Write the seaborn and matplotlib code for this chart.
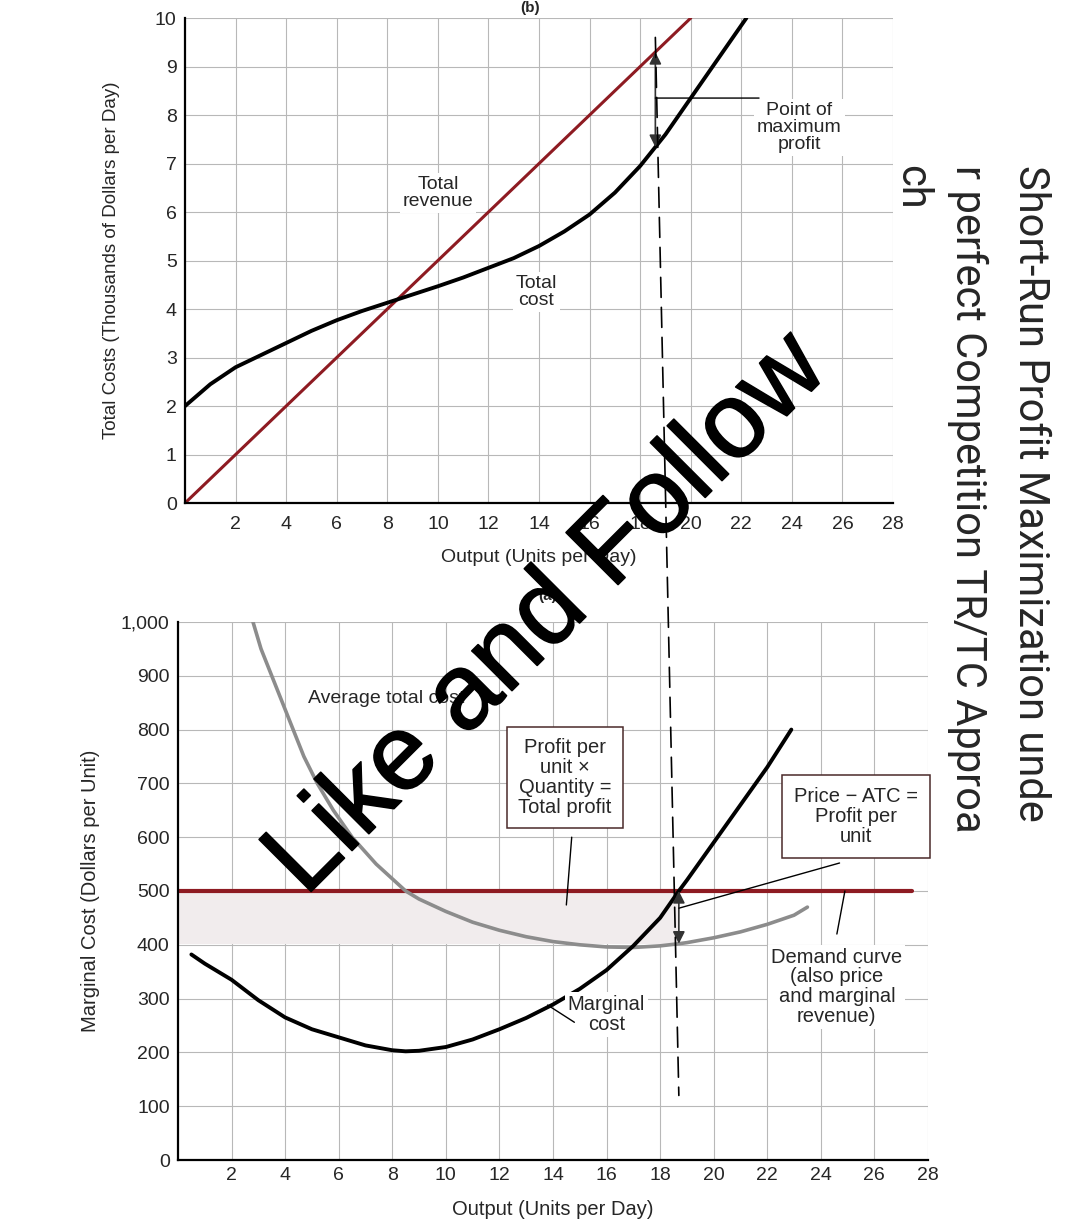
import numpy as np
import pandas as pd
import matplotlib
matplotlib.use("Agg")
import matplotlib.pyplot as plt
import matplotlib.patheffects as pe
import seaborn as sns
from matplotlib.patches import ConnectionPatch

# ---- data ----
output_ticks = list(range(2, 29, 2))
total_ticks = list(range(0, 11))
unit_ticks = list(range(0, 1001, 100))

# panel (b): totals, thousands of dollars per day
tr_x = [0, 20]
tr_y = [0, 10]
tc_x = [0, 1, 2, 3, 4, 5, 6, 7, 8, 9, 10, 11, 12, 13, 14, 15, 16, 17, 18, 19, 20, 21, 22, 22.2]
tc_y = [2.0, 2.45, 2.8, 3.05, 3.3, 3.55, 3.77, 3.96, 4.13, 4.3, 4.47, 4.65, 4.85, 5.05,
        5.3, 5.6, 5.95, 6.4, 6.95, 7.6, 8.35, 9.1, 9.85, 10.0]

# panel (a): per-unit, dollars per unit
mc_x = [0.5, 1, 2, 3, 4, 5, 6, 7, 8, 8.5, 9, 10, 11, 12, 13, 14, 15, 16, 17, 18,
        18.7, 19, 20, 21, 22, 22.9]
mc_y = [382, 365, 335, 297, 265, 243, 228, 213, 204, 202, 203, 210, 224, 243, 264, 289,
        318, 353, 398, 450, 500, 520, 590, 660, 730, 800]
atc_x = [2.8, 3.1, 3.5, 3.9, 4.3, 4.7, 5.2, 5.8, 6.5, 7.4, 8.5, 9, 10, 11, 12, 13, 14,
         15, 16, 17, 18, 18.7, 19, 20, 21, 22, 23, 23.5]
atc_y = [1000, 950, 900, 850, 800, 750, 700, 650, 600, 550, 500, 485, 462, 442, 427, 415,
         406, 400, 396, 395, 398, 402, 404, 413, 424, 438, 455, 470]
demand_x = [0, 27.4]
demand_y = [500, 500]

q_top = 18.6      # profit-maximising output as drawn in panel (b)
q_bottom = 18.7   # same point as drawn in panel (a)
price = 500

sns.set_style("white")
plt.rcParams["font.family"] = ["Liberation Sans", "DejaVu Sans"]

fig = plt.figure(figsize=(10.8, 12.27), dpi=100)
ax_top = fig.add_axes([0.1713, 0.590, 0.6556, 0.3953])
ax_bot = fig.add_axes([0.1648, 0.0546, 0.6944, 0.4385])

grid_color = "#b8b8b8"
dark_red = "#8e1b22"
box = dict(boxstyle="square,pad=0.15", facecolor="white", edgecolor="none")
line_kw = dict(arrowstyle="-", color="black", lw=1.0, shrinkA=0, shrinkB=0)


def style_axes(ax, yticks):
    ax.set_xlim(0, 28)
    ax.set_ylim(yticks[0], yticks[-1])
    ax.set_xticks(output_ticks)
    ax.set_yticks(yticks)
    ax.grid(True, color=grid_color, linewidth=0.8)
    ax.set_axisbelow(True)
    for side in ["top", "right"]:
        ax.spines[side].set_visible(False)
    for side in ["left", "bottom"]:
        ax.spines[side].set_color("black")
        ax.spines[side].set_linewidth(1.6)
    ax.tick_params(length=0, labelsize=14, pad=6)


# ---- panel (b) ----
style_axes(ax_top, total_ticks)
ax_top.tick_params(axis="x", pad=9)
sns.lineplot(x=tr_x, y=tr_y, ax=ax_top, color=dark_red, linewidth=2.2)
sns.lineplot(x=tc_x, y=tc_y, ax=ax_top, color="black", linewidth=2.8)
ax_top.set_xlabel("Output (Units per Day)", fontsize=14)
ax_top.set_ylabel("Total Costs (Thousands of Dollars per Day)", fontsize=13.5)
ax_top.xaxis.set_label_coords(0.5, -0.095)
ax_top.yaxis.set_label_coords(-0.092, 0.5)

tr_q = np.interp(q_top, tr_x, tr_y)
tc_q = np.interp(q_top, tc_x, tc_y)
ax_top.annotate("", xy=(q_top, tr_q), xytext=(q_top, tc_q),
                arrowprops=dict(arrowstyle="<|-|>", color="#333333", lw=1.2,
                                mutation_scale=18, shrinkA=0, shrinkB=0))
ax_top.annotate("", xy=(q_top, 8.35), xytext=(22.7, 8.35), arrowprops=line_kw)
ax_top.text(24.3, 7.75, "Point of\nmaximum\nprofit", ha="center", va="center",
            fontsize=14, linespacing=1.0, bbox=box)
ax_top.text(10.0, 6.4, "Total\nrevenue", ha="center", va="center",
            fontsize=14, linespacing=1.0, bbox=box)
ax_top.text(13.9, 4.35, "Total\ncost", ha="center", va="center",
            fontsize=14, linespacing=1.0, bbox=box)

# ---- panel (a) ----
style_axes(ax_bot, unit_ticks)
ax_bot.set_yticklabels([f"{v:,}" for v in unit_ticks])
ax_bot.tick_params(axis="x", pad=5)
ax_bot.fill_between([0, q_bottom], np.interp(q_bottom, atc_x, atc_y), price,
                    color="#f1eced", zorder=1, linewidth=0)
sns.lineplot(x=demand_x, y=demand_y, ax=ax_bot, color=dark_red, linewidth=3.0)
sns.lineplot(x=atc_x, y=atc_y, ax=ax_bot, color="#8c8c8c", linewidth=2.6)
sns.lineplot(x=mc_x, y=mc_y, ax=ax_bot, color="black", linewidth=2.8)
ax_bot.set_xlabel("Output (Units per Day)", fontsize=14.5)
ax_bot.set_ylabel("Marginal Cost (Dollars per Unit)", fontsize=14.5)
ax_bot.xaxis.set_label_coords(0.5, -0.074)
ax_bot.yaxis.set_label_coords(-0.104, 0.5)

atc_q = np.interp(q_bottom, atc_x, atc_y)
ax_bot.annotate("", xy=(q_bottom, price), xytext=(q_bottom, atc_q),
                arrowprops=dict(arrowstyle="<|-|>", color="#333333", lw=1.2,
                                mutation_scale=18, shrinkA=0, shrinkB=0))

ax_bot.text(4.85, 857, "Average total cost", ha="left", va="center", fontsize=14)

boxed = dict(boxstyle="square,pad=0.55", facecolor="white", edgecolor="#4a2a2a", linewidth=1.1)
ax_bot.text(14.45, 711, "Profit per\nunit \u00d7\nQuantity =\nTotal profit",
            ha="center", va="center", fontsize=14.5, linespacing=1.05, bbox=boxed)
ax_bot.annotate("", xy=(14.5, 474), xytext=(14.7, 600), arrowprops=line_kw)

ax_bot.text(25.3, 638, "Price \u2212 ATC =\nProfit per\nunit",
            ha="center", va="center", fontsize=14.5, linespacing=1.05,
            bbox=dict(boxstyle="square,pad=0.6", facecolor="white",
                      edgecolor="#4a2a2a", linewidth=1.1), clip_on=False)
ax_bot.annotate("", xy=(q_bottom, 468), xytext=(24.7, 552), arrowprops=line_kw)

ax_bot.text(24.6, 322, "Demand curve\n(also price\nand marginal\nrevenue)",
            ha="center", va="center", fontsize=14.5, linespacing=1.05, bbox=box)
ax_bot.annotate("", xy=(24.9, price), xytext=(24.6, 420), arrowprops=line_kw)

ax_bot.text(16.0, 271, "Marginal\ncost", ha="center", va="center",
            fontsize=14.5, linespacing=1.05, bbox=box)
ax_bot.annotate("", xy=(13.8, 288), xytext=(14.8, 256), arrowprops=line_kw)

# dashed line joining the two panels at the profit-maximising output
link = ConnectionPatch(xyA=(q_top, 9.6), coordsA=ax_top.transData,
                       xyB=(q_bottom, 120), coordsB=ax_bot.transData,
                       color="black", linewidth=1.2, linestyle=(0, (12, 6)))
fig.add_artist(link)

fig.text(530 / 1080, 1 - 8 / 1227, "(b)", ha="center", va="center",
         fontsize=11, fontweight="bold")
fig.text(548 / 1080, 1 - 596 / 1227, "(a)", ha="center", va="center",
         fontsize=11, fontweight="bold")

# rotated caption on the right
caption = ["Short-Run Profit Maximization unde",
           "r perfect Competition TR/TC Approa",
           "ch"]
caption_x = [1030, 968, 912]
for line, cx in zip(caption, caption_x):
    fig.text(cx / 1080, 1 - 165 / 1227, line, rotation=-90, ha="center", va="top",
             fontsize=30, family=["Roboto", "DejaVu Sans"])

# watermark
fig.text(548 / 1080, 1 - 615 / 1227, "Like and Follow", rotation=45,
         rotation_mode="anchor", ha="center", va="center", fontsize=77,
         color="black", zorder=10,
         path_effects=[pe.withStroke(linewidth=1.2, foreground="black")])

fig.savefig("out.png", dpi=100, facecolor="white")
